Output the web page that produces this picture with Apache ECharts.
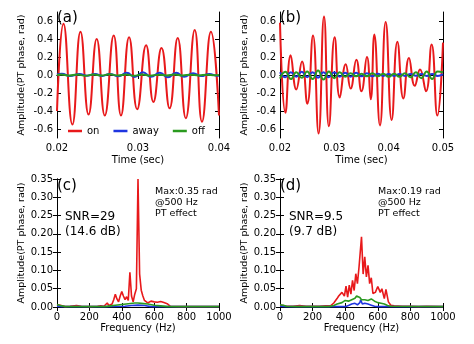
<!DOCTYPE html>
<html><head><meta charset="utf-8">
<script src="https://cdn.jsdelivr.net/npm/echarts@6/dist/echarts.min.js"></script>
<style>html,body{margin:0;padding:0;background:#fff}#c{width:474px;height:344px}</style>
</head><body><div id="c"></div>
<script>
// ---------- Data ----------
// Panel (a): time series, extrema
const aRedT = [0.0200,0.0208,0.0219,0.0229,0.0239,0.0249,0.0259,0.0270,0.0279,0.0289,0.0299,0.0310,0.0319,0.0329,0.0339,0.0349,0.0359,0.0370,0.0379,0.0390,0.0400];
const aRedV = [-0.40,0.57,-0.55,0.48,-0.44,0.40,-0.45,0.44,-0.45,0.42,-0.38,0.33,-0.30,0.30,-0.37,0.41,-0.48,0.50,-0.52,0.48,-0.45];
const aBlueT = [0.0200,0.0206,0.0216,0.0228,0.0237,0.0247,0.0256,0.0265,0.0276,0.0286,0.0296,0.0306,0.0316,0.0327,0.0337,0.0347,0.0357,0.0368,0.0378,0.0388,0.0398,0.0400];
const aBlueV = [0.005,0.015,-0.010,0.010,-0.008,0.010,-0.010,0.012,-0.015,0.025,-0.022,0.030,-0.020,0.025,-0.025,0.025,-0.020,0.020,-0.012,0.012,-0.008,-0.005];
const aGreenT = [0.0200,0.0205,0.0215,0.0225,0.0235,0.0245,0.0255,0.0265,0.0275,0.0285,0.0295,0.0305,0.0315,0.0325,0.0335,0.0345,0.0355,0.0365,0.0375,0.0385,0.0395,0.0400];
const aGreenV = [0.000,0.006,-0.006,0.005,-0.008,0.006,-0.006,0.008,-0.006,0.005,-0.008,0.006,-0.007,0.004,-0.006,0.005,-0.006,0.004,-0.005,0.004,-0.004,0.000];

// Panel (b)
const bRedT = [0.0200,0.0210,0.02196,0.0230,0.02405,0.02503,0.02607,0.0271,0.0281,0.0290,0.03006,0.0310,0.0321,0.0330,0.03405,0.0350,0.0360,0.0367,0.03736,0.0384,0.03945,0.04055,0.0416,0.0427,0.04374,0.0448,0.04577,0.04687,0.0479,0.04896,0.0500];
const bRedV = [0.58,-0.42,0.22,-0.16,0.15,-0.32,0.44,-0.65,0.65,-0.57,0.42,-0.25,0.12,-0.15,0.17,-0.18,0.20,-0.27,0.45,-0.56,0.59,-0.50,0.37,-0.26,0.19,-0.12,0.06,-0.18,0.34,-0.45,0.36];
const bBGT = [0.020,0.021,0.022,0.023,0.024,0.025,0.026,0.027,0.028,0.029,0.030,0.031,0.032,0.033,0.034,0.035,0.036,0.037,0.038,0.039,0.040,0.041,0.042,0.043,0.044,0.045,0.046,0.047,0.048,0.049,0.050];
const bBlueV = [0.03,-0.025,0.03,-0.02,0.035,-0.025,0.03,-0.03,0.03,-0.025,0.03,-0.02,0.025,-0.02,0.025,-0.015,0.02,-0.015,0.015,-0.01,0.01,-0.01,0.01,-0.01,0.01,-0.008,0.01,-0.01,0.012,-0.01,0.01];
const bGreenV = [-0.04,0.035,-0.045,0.03,-0.03,0.04,-0.045,0.05,-0.05,0.04,-0.035,0.03,-0.02,0.02,-0.015,0.015,-0.015,0.02,-0.015,0.015,-0.02,0.015,-0.02,0.02,-0.025,0.03,-0.035,0.04,-0.045,0.04,0.03];

// Panel (c): spectra
const cRedF = [0,10,20,30,50,80,120,150,200,250,270,290,300,310,320,330,340,350,360,370,380,390,400,410,420,430,440,450,460,470,480,490,500,510,520,530,540,550,560,570,580,590,600,610,620,630,640,650,660,670,680,690,700,750,800,900,1000];
const cRedV = [0.006,0.004,0.005,0.003,0.001,0.002,0.004,0.002,0.001,0.002,0.003,0.002,0.004,0.011,0.004,0.006,0.008,0.020,0.035,0.022,0.014,0.030,0.042,0.030,0.020,0.028,0.018,0.095,0.030,0.014,0.035,0.050,0.350,0.090,0.046,0.030,0.018,0.015,0.011,0.012,0.016,0.020,0.014,0.011,0.013,0.012,0.015,0.018,0.012,0.011,0.009,0.005,0.002,0.001,0.001,0.001,0.001];
const cGreenF = [0,10,20,30,50,100,200,300,330,360,400,440,480,500,520,560,600,640,680,1000];
const cGreenV = [0.007,0.006,0.004,0.002,0.001,0.001,0.001,0.001,0.003,0.005,0.007,0.009,0.011,0.011,0.010,0.008,0.005,0.003,0.001,0.001];
const cBlueF = [0,30,300,420,460,500,540,580,1000];
const cBlueV = [0.002,0.001,0.001,0.002,0.004,0.005,0.004,0.001,0.001];

// Panel (d)
const dRedF = [0,10,20,40,80,120,160,200,240,280,310,320,330,340,350,360,370,380,385,395,405,415,425,435,445,455,465,475,485,500,510,520,530,540,550,560,570,585,600,615,625,640,650,665,680,700,750,800,850,900,1000];
const dRedV = [0.005,0.006,0.004,0.002,0.002,0.004,0.002,0.002,0.002,0.003,0.003,0.006,0.011,0.015,0.023,0.030,0.035,0.040,0.042,0.030,0.057,0.027,0.060,0.035,0.073,0.045,0.091,0.064,0.110,0.192,0.090,0.137,0.082,0.114,0.064,0.080,0.037,0.040,0.056,0.040,0.050,0.023,0.048,0.014,0.005,0.003,0.002,0.002,0.001,0.002,0.001];
const dGreenF = [0,10,20,40,100,300,330,350,380,400,420,440,460,470,480,490,500,510,520,540,560,580,600,620,640,660,680,1000];
const dGreenV = [0.006,0.007,0.005,0.002,0.001,0.001,0.004,0.008,0.012,0.018,0.016,0.020,0.024,0.030,0.035,0.026,0.020,0.022,0.020,0.018,0.022,0.016,0.012,0.010,0.008,0.004,0.002,0.001];
const dBlueF = [0,40,400,420,440,460,475,490,495,505,520,540,560,580,600,1000];
const dBlueV = [0.002,0.001,0.001,0.004,0.008,0.010,0.006,0.012,0.020,0.008,0.010,0.008,0.005,0.002,0.001,0.001];

// Tick labels
const tYTicks = [-0.6,-0.4,-0.2,0.0,0.2,0.4,0.6];
const aXTicks = [0.02,0.03,0.04];
const bXTicks = [0.02,0.03,0.04,0.05];
const fYTicks = [0,0.05,0.10,0.15,0.20,0.25,0.30,0.35];
const fXTicks = [0,200,400,600,800,1000];

// ---------- Chart ----------
const FONT = 'DejaVu Sans';
const RED = '#e8191b', BLUE = '#1f35e0', GREEN = '#2a9a1f';
const zip = (a, b) => a.map((v, i) => [v, b[i]]);
const grids = [
  {left:57, top:12, width:162, height:126},
  {left:280, top:12, width:163, height:126},
  {left:57, top:179, width:162, height:128},
  {left:280, top:179, width:163, height:128}
];
const xAxes = [], yAxes = [];
function addAxes(gi, xmin, xmax, xt, xfmt, xname, xgap, ymin, ymax, yt, yfmt) {
  const line = {show:true, lineStyle:{color:'#000', width:1}};
  const tick = (vals) => ({show:true, inside:true, length:4, lineStyle:{color:'#000', width:1}, customValues:vals});
  xAxes.push({type:'value', gridIndex:gi, position:'bottom', min:xmin, max:xmax,
    axisLine:line, axisTick:tick(xt), splitLine:{show:false},
    axisLabel:{customValues:xt, formatter:xfmt, fontFamily:FONT, fontSize:10, color:'#000', margin:5, showMinLabel:true, showMaxLabel:true},
    name:xname, nameLocation:'middle', nameGap:xgap, nameTextStyle:{fontFamily:FONT, fontSize:10, color:'#000'}});
  xAxes.push({type:'value', gridIndex:gi, position:'top', min:xmin, max:xmax,
    axisLine:line, axisTick:tick(xt), splitLine:{show:false}, axisLabel:{show:false}});
  yAxes.push({type:'value', gridIndex:gi, position:'left', min:ymin, max:ymax,
    axisLine:line, axisTick:tick(yt), splitLine:{show:false},
    axisLabel:{customValues:yt, formatter:yfmt, fontFamily:FONT, fontSize:10, color:'#000', margin:4, showMinLabel:true, showMaxLabel:true},
    name:'Amplitude(PT phase, rad)', nameLocation:'middle', nameGap:30,
    nameTextStyle:{fontFamily:FONT, fontSize:9.5, color:'#000'}});
  yAxes.push({type:'value', gridIndex:gi, position:'right', min:ymin, max:ymax,
    axisLine:line, axisTick:tick(yt), splitLine:{show:false}, axisLabel:{show:false}});
}
const f1 = v => v.toFixed(1), f2 = v => v.toFixed(2), f0 = v => String(Math.round(v));
addAxes(0, 0.02, 0.04, aXTicks, f2, 'Time (sec)', 17, -0.7, 0.7, tYTicks, f1);
addAxes(1, 0.02, 0.05, bXTicks, f2, 'Time (sec)', 17, -0.7, 0.7, tYTicks, f1);
addAxes(2, 0, 1000, fXTicks, f0, 'Frequency (Hz)', 16, 0, 0.35, fYTicks, f2);
addAxes(3, 0, 1000, fXTicks, f0, 'Frequency (Hz)', 16, 0, 0.35, fYTicks, f2);

function ser(name, gi, data, color, width, smooth) {
  return {name, type:'line', xAxisIndex:gi*2, yAxisIndex:gi*2, data, showSymbol:false, symbol:'none',
    smooth: smooth ? 0.5 : false, clip:true, lineStyle:{color, width}, itemStyle:{color}, z:2};
}
const series = [
  ser('on', 0, zip(aRedT, aRedV), RED, 2, true),
  ser('away', 0, zip(aBlueT, aBlueV), BLUE, 2, true),
  ser('off', 0, zip(aGreenT, aGreenV), GREEN, 2, true),
  ser('on', 1, zip(bRedT, bRedV), RED, 2, true),
  ser('away', 1, zip(bBGT, bBlueV), BLUE, 2, true),
  ser('off', 1, zip(bBGT, bGreenV), GREEN, 2, true),
  ser('on', 2, zip(cRedF, cRedV), RED, 1.6, false),
  ser('away', 2, zip(cBlueF, cBlueV), BLUE, 1.6, false),
  ser('off', 2, zip(cGreenF, cGreenV), GREEN, 1.6, false),
  ser('on', 3, zip(dRedF, dRedV), RED, 1.6, false),
  ser('away', 3, zip(dBlueF, dBlueV), BLUE, 1.6, false),
  ser('off', 3, zip(dGreenF, dGreenV), GREEN, 1.6, false)
];
const txt = (x, y, text, size, extra) => ({type:'text', left:x, top:y, z:10,
  style:Object.assign({text, font:size + 'px ' + FONT, fill:'#000'}, extra || {})});
const option = {
  animation:false,
  backgroundColor:'#fff',
  grid:grids,
  xAxis:xAxes,
  yAxis:yAxes,
  legend:{data:['on','away','off'], left:63, top:121, icon:'rect', itemWidth:14, itemHeight:2.5, itemGap:14,
    textStyle:{fontFamily:FONT, fontSize:10, color:'#000'}, selectedMode:false},
  series,
  graphic:[
    txt(57, 11, '(a)', 15), txt(280, 11, '(b)', 15),
    txt(57, 179, '(c)', 15), txt(280, 179, '(d)', 15),
    txt(65, 209, 'SNR=29\n(14.6 dB)', 12, {lineHeight:15}),
    txt(155, 186, 'Max:0.35 rad\n@500 Hz\nPT effect', 9.5, {lineHeight:11}),
    txt(289, 209, 'SNR=9.5\n(9.7 dB)', 12, {lineHeight:15}),
    txt(378, 186, 'Max:0.19 rad\n@500 Hz\nPT effect', 9.5, {lineHeight:11})
  ]
};
const chart = echarts.init(document.getElementById('c'));
chart.setOption(option);
</script>
</body></html>
